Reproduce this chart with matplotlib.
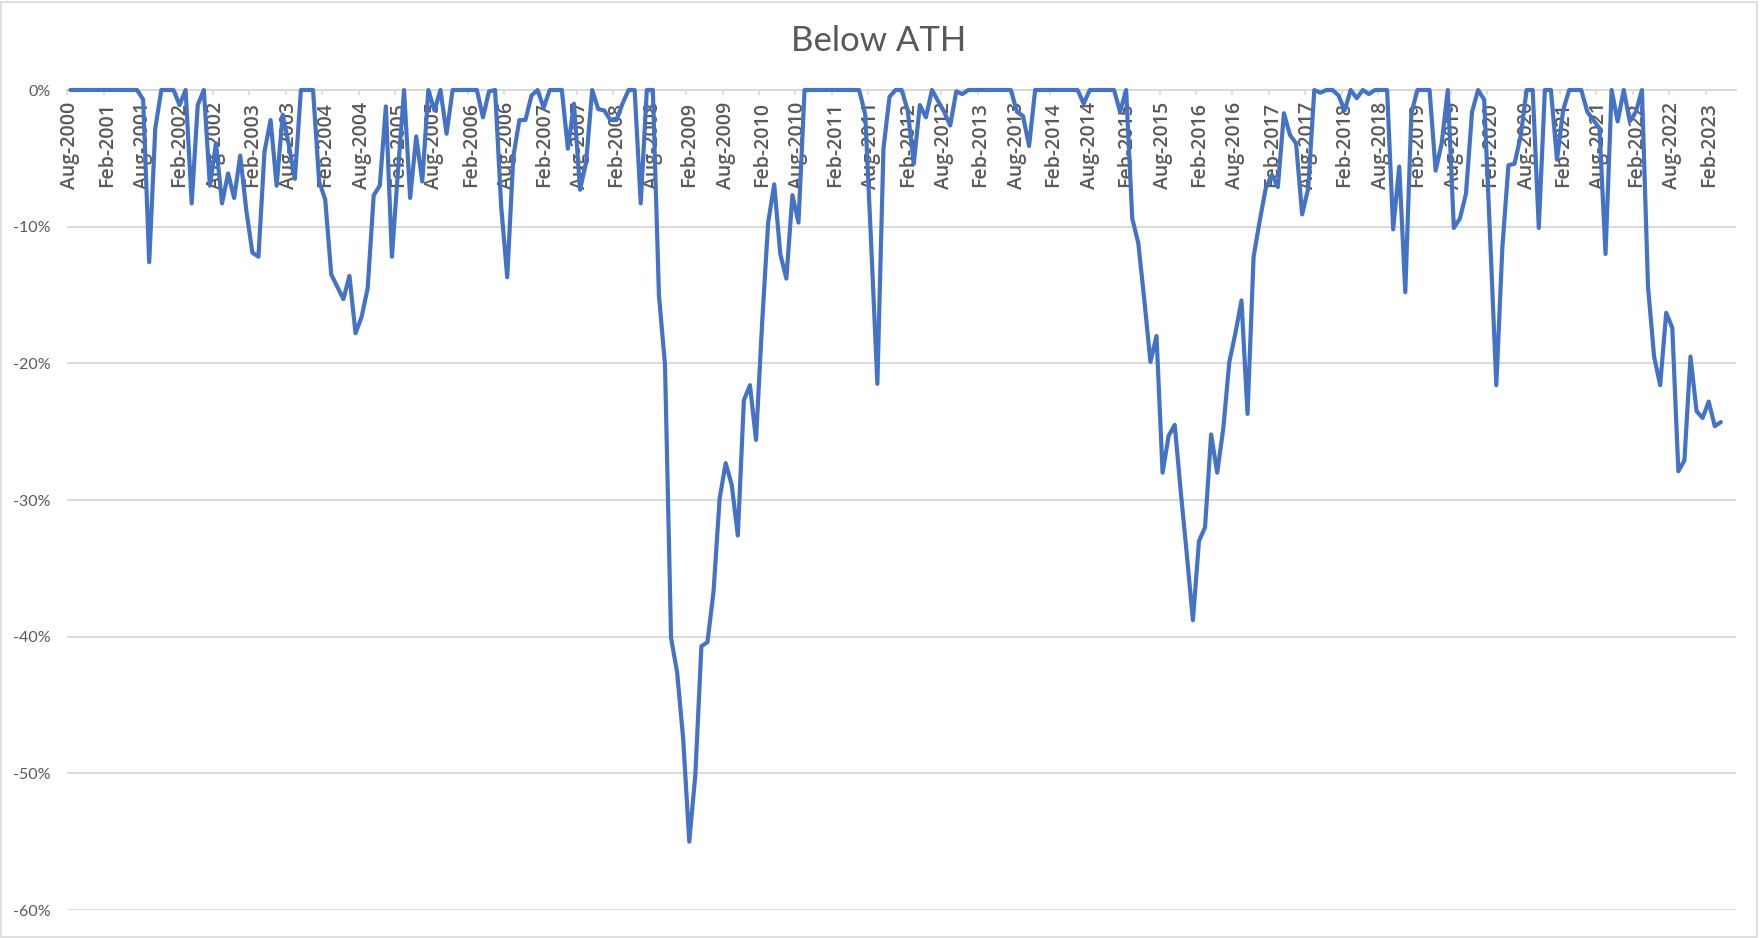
import numpy as np
import matplotlib
matplotlib.use('Agg')
import matplotlib.pyplot as plt
from matplotlib.patches import Rectangle
from matplotlib.ticker import FuncFormatter

plt.rcParams['font.family'] = ['Lato', 'DejaVu Sans']
plt.rcParams['axes.unicode_minus'] = False

# % below all-time high, one value per month starting Aug-2000
below_2000_2004 = [0, 0, 0, 0, 0, 0, 0, 0, 0, 0, 0, 0,
                   -0.7, -12.6, -2.8, 0, 0, 0, -1.1, 0, -8.3, -1.1, 0, -7.0,
                   -3.9, -8.3, -6.1, -7.9, -4.8, -8.8, -11.9, -12.2, -4.5, -2.2, -7.0, -1.8,
                   -4.0, -6.5, 0, 0, 0, -6.7, -8.0, -13.5, -14.4, -15.3, -13.6, -17.8]
below_2004_2008 = [-16.6, -14.5, -7.7, -7.0, -1.2, -12.2, -5.9, 0, -7.9, -3.4, -6.7, 0,
                   -1.5, 0, -3.2, 0, 0, 0, 0, 0, -2.0, -0.1, 0, -8.5,
                   -13.7, -4.9, -2.2, -2.2, -0.4, 0, -1.3, 0, 0, 0, -4.3, -1.0,
                   -7.3, -5.3, 0, -1.4, -1.5, -2.2, -2.2, -1.0, 0, 0, -8.3, 0]
below_2008_2012 = [0, -15.0, -20.1, -40.1, -42.6, -47.5, -55.0, -50.1, -40.7, -40.4, -36.7, -29.9,
                   -27.3, -28.9, -32.6, -22.7, -21.6, -25.6, -17.1, -9.7, -6.9, -12.0, -13.8, -7.7,
                   -9.7, 0, 0, 0, 0, 0, 0, 0, 0, 0, 0, -1.8,
                   -11.5, -21.5, -4.3, -0.5, 0, 0, -1.5, -5.4, -1.1, -2.0, 0, -0.8]
below_2012_2016 = [-1.6, -2.6, -0.1, -0.3, 0, 0, 0, 0, 0, 0, 0, 0,
                   -1.6, -1.9, -4.1, 0, 0, 0, 0, 0, 0, 0, 0, -1.0,
                   0, 0, 0, 0, 0, -1.6, 0, -9.4, -11.2, -15.4, -19.9, -18.0,
                   -28.0, -25.3, -24.5, -29.4, -34.0, -38.8, -33.0, -32.0, -25.2, -28.0, -24.8, -19.9]
below_2016_2020 = [-17.8, -15.4, -23.7, -12.2, -9.6, -7.2, -6.2, -7.1, -1.7, -3.3, -3.9, -9.1,
                   -7.2, 0, -0.2, 0, 0, -0.4, -1.5, 0, -0.6, 0, -0.3, 0,
                   0, 0, -10.2, -5.6, -14.8, -1.7, 0, 0, 0, -5.9, -3.9, 0,
                   -10.1, -9.4, -7.6, -1.6, 0, -0.7, -11.0, -21.6, -11.5, -5.5, -5.4, -3.4]
below_2020_2023 = [0, 0, -10.1, 0, 0, -5.1, -1.5, 0, 0, 0, -1.6, -2.2,
                   -2.8, -12.0, 0, -2.3, 0, -2.3, -1.6, 0, -14.4, -19.5, -21.6, -16.3,
                   -17.4, -27.9, -27.1, -19.5, -23.5, -24.0, -22.8, -24.6, -24.3]

month_labels = ['Aug-2000', 'Feb-2001', 'Aug-2001', 'Feb-2002', 'Aug-2002', 'Feb-2003',
                'Aug-2003', 'Feb-2004', 'Aug-2004', 'Feb-2005', 'Aug-2005', 'Feb-2006',
                'Aug-2006', 'Feb-2007', 'Aug-2007', 'Feb-2008', 'Aug-2008', 'Feb-2009',
                'Aug-2009', 'Feb-2010', 'Aug-2010', 'Feb-2011', 'Aug-2011', 'Feb-2012',
                'Aug-2012', 'Feb-2013', 'Aug-2013', 'Feb-2014', 'Aug-2014', 'Feb-2015',
                'Aug-2015', 'Feb-2016', 'Aug-2016', 'Feb-2017', 'Aug-2017', 'Feb-2018',
                'Aug-2018', 'Feb-2019', 'Aug-2019', 'Feb-2020', 'Aug-2020', 'Feb-2021',
                'Aug-2021', 'Feb-2022', 'Aug-2022', 'Feb-2023']
n_categories = 275  # axis runs to Jun-2023, last two months empty

below = np.array(below_2000_2004 + below_2004_2008 + below_2008_2012
                 + below_2012_2016 + below_2016_2020 + below_2020_2023) / 100.0
x = np.arange(len(below))

grey = '#595959'
grid_c = '#d9d9d9'

fig = plt.figure(figsize=(17.6, 9.38), dpi=100)
ax = fig.add_axes([67.3 / 1760, 1 - 910 / 938, (1736 - 67.3) / 1760, 820 / 938])

ax.plot(x, below, color='#4472C4', lw=3.0, clip_on=False, zorder=5,
        solid_joinstyle='round', solid_capstyle='round')

ax.set_xlim(-0.5, n_categories - 0.5)
ax.set_ylim(-0.6, 0)
ax.set_yticks(np.arange(-0.6, 0.01, 0.1))
ax.yaxis.set_major_formatter(FuncFormatter(lambda v, _: '%d%%' % round(v * 100)))
ax.grid(axis='y', color=grid_c, lw=1.4)
ax.set_axisbelow(True)

for s in ['top', 'left', 'right']:
    ax.spines[s].set_visible(False)
ax.spines['bottom'].set_position(('data', 0))
ax.spines['bottom'].set_color(grid_c)
ax.spines['bottom'].set_linewidth(1.4)

# ticks at category boundaries, labels centred on the category
ax.set_xticks(np.arange(0, n_categories, 6) - 0.5)
ax.set_xticklabels([])
ax.set_xticks(np.arange(0, 6 * len(month_labels), 6), minor=True)
ax.set_xticklabels(month_labels, minor=True, rotation=90, ha='center', va='top',
                   fontsize=14, fontweight='semibold', color=grey,
                   family=['Open Sans', 'DejaVu Sans'])
ax.tick_params(axis='x', which='major', length=3.5, color=grid_c, width=1.2)
ax.tick_params(axis='x', which='minor', length=0, pad=8.5)
ax.tick_params(axis='y', length=0, pad=12, labelsize=11.5, labelcolor=grey)

fig.text(0.499, 1 - 41 / 938, 'Below ATH', ha='center', va='center',
         fontsize=25, color=grey)

fig.patches.append(Rectangle((0.0006, 0.001), 0.9977, 0.997, transform=fig.transFigure,
                             fill=False, edgecolor=grid_c, lw=1.2))

fig.savefig('out.png', dpi=100, facecolor='white')
